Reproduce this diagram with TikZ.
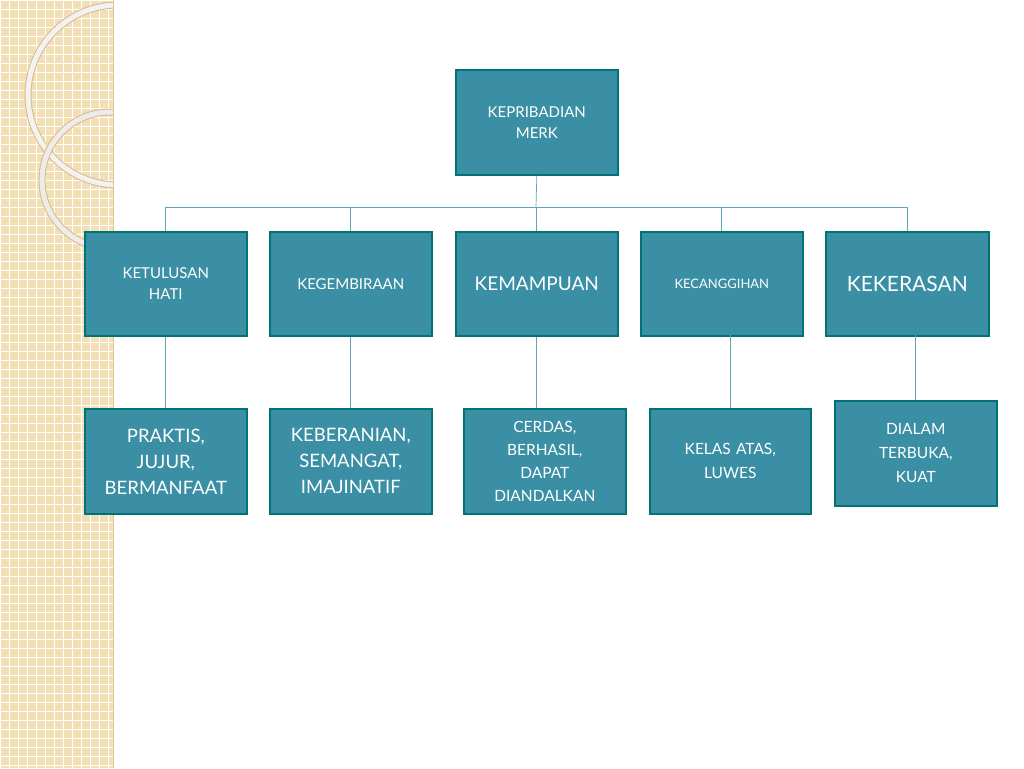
\documentclass[tikz,border=0pt]{standalone}
\usepackage{fontspec}
\setmainfont{Lato}
\begin{document}
\begin{tikzpicture}[x=1pt,y=-1pt,
 bx/.style={draw=black!25!teal!70!cyan!80!black,line width=1.6pt,fill=tealc,text=white,inner sep=0pt,align=center,anchor=north west},
 ln/.style={draw=tealc!80,line width=0.7pt}]
\definecolor{tealc}{HTML}{3A8FA5}
\definecolor{beige}{HTML}{F3DFB5}
\useasboundingbox (0,0) rectangle (1024,768);
\fill[white] (0,0) rectangle (1024,768);
\fill[beige] (0,0) rectangle (113,768);
\foreach \i in {0,9,...,113} \draw[white,line width=0.8pt] (\i,0) -- (\i,768);
\foreach \j in {0,9,...,768} \draw[white,line width=0.8pt] (0,\j) -- (113,\j);
\draw[beige!70!brown,line width=0.8pt] (113,0) -- (113,768);
\begin{scope}
\clip (0,0) rectangle (113,768);
\draw[beige!60!brown,line width=7pt] (118,95) circle (90);
\draw[white!90!gray,line width=5pt] (118,95) circle (90);
\draw[beige!60!brown,line width=7pt] (110,180) circle (68);
\draw[white!85!gray,line width=5pt] (110,180) circle (68);
\end{scope}
\newcommand{\bxx}[6]{\node[bx,minimum width=#3,minimum height=#4,text width=#3-4,font=#6] (#1) at (#2) {#5};}
\bxx{top}{455,69}{162}{105}{KEPRIBADIAN\\MERK\\[1.1em]}{\fontsize{15}{21}\selectfont}
\bxx{a}{84,231}{162}{104}{KETULUSAN\\HATI\\[0.6em]}{\fontsize{15}{21}\selectfont}
\bxx{b}{269,231}{162}{104}{KEGEMBIRAAN\\[1.2em]}{\fontsize{15}{21}\selectfont}
\bxx{c}{455,231}{162}{104}{KEMAMPUAN\\[1.2em]}{\fontsize{19}{23}\selectfont}
\bxx{d}{640,231}{162}{104}{KECANGGIHAN\\[1.5em]}{\fontsize{13}{17}\selectfont}
\bxx{e}{825,231}{163}{104}{KEKERASAN\\[1em]}{\fontsize{21}{25}\selectfont}
\bxx{a2}{84,408}{162}{105}{PRAKTIS,\\JUJUR,\\BERMANFAAT}{\fontsize{18.5}{26}\selectfont}
\bxx{b2}{269,408}{162}{105}{KEBERANIAN,\\SEMANGAT,\\IMAJINATIF}{\fontsize{18.5}{26}\selectfont}
\bxx{c2}{463,408}{162}{105}{CERDAS,\\BERHASIL,\\DAPAT\\DIANDALKAN}{\fontsize{15.5}{23}\selectfont}
\bxx{d2}{649,408}{161}{105}{KELAS ATAS,\\LUWES\\[1.1em]}{\fontsize{15.5}{24}\selectfont}
\bxx{e2}{834,400}{162}{105}{DIALAM\\TERBUKA,\\KUAT}{\fontsize{15.5}{24}\selectfont}
\coordinate (h) at (536,207);
\draw[ln] (top.south) -- (h);
\draw[ln] (a.north |- h) -- (e.north |- h);
\foreach \n in {a,b,c,d,e} \draw[ln] (\n.north |- h) -- (\n.north);
\draw[ln] (a.south) -- (a.south |- a2.north);
\draw[ln] (b.south) -- (b.south |- b2.north);
\draw[ln] (c.south) -- (c.south |- c2.north);
\draw[ln] (d2.north -| 730,0) -- (730,335);
\draw[ln] (915,335) -- (915,400);
\end{tikzpicture}
\end{document}
